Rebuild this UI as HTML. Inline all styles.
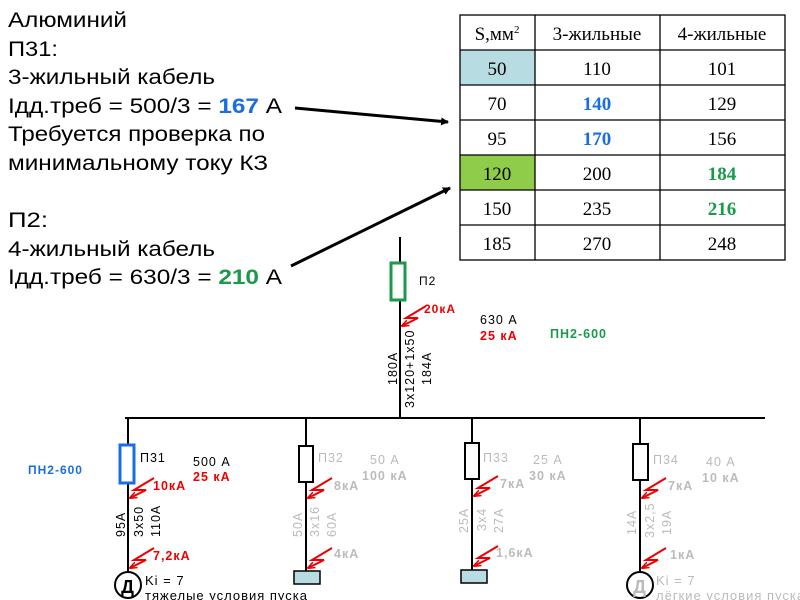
<!DOCTYPE html>
<html><head><meta charset="utf-8"><style>
html,body{margin:0;padding:0;background:#fff;}
svg{display:block;font-family:"Liberation Sans","DejaVu Sans",sans-serif;}
.d text{letter-spacing:1px;}
</style></head><body>
<svg width="800" height="600" viewBox="0 0 800 600" xmlns="http://www.w3.org/2000/svg">
<defs>
<marker id="ah" markerWidth="8" markerHeight="8" refX="7" refY="4" orient="auto" markerUnits="userSpaceOnUse"><path d="M0,0 L8,4 L0,8 z" fill="#000"/></marker>
<marker id="rh" markerWidth="8" markerHeight="8" refX="7" refY="4" orient="auto" markerUnits="userSpaceOnUse"><path d="M0,1 L8,4 L0,7" fill="none" stroke="#e00" stroke-width="1.5"/></marker>
<g id="z"><polyline points="24,-12 4,0 16,0 0,8" fill="none" stroke="#e00" stroke-width="2" marker-end="url(#rh)"/></g>
</defs>
<g font-size="21" fill="#000">
<text x="8" y="27" textLength="119" lengthAdjust="spacingAndGlyphs">Алюминий</text>
<text x="8" y="56" textLength="50" lengthAdjust="spacingAndGlyphs">П31:</text>
<text x="8" y="84" textLength="207" lengthAdjust="spacingAndGlyphs">3-жильный кабель</text>
<text x="8" y="113" textLength="274" lengthAdjust="spacingAndGlyphs">Ідд.треб = 500/3 = <tspan fill="#1a6ee0" font-weight="bold">167</tspan> А</text>
<text x="8" y="141" textLength="257" lengthAdjust="spacingAndGlyphs">Требуется проверка по</text>
<text x="8" y="170" textLength="260" lengthAdjust="spacingAndGlyphs">минимальному току КЗ</text>
<text x="8" y="227" textLength="40" lengthAdjust="spacingAndGlyphs">П2:</text>
<text x="8" y="256" textLength="207" lengthAdjust="spacingAndGlyphs">4-жильный кабель</text>
<text x="8" y="284" textLength="274" lengthAdjust="spacingAndGlyphs">Ідд.треб = 630/3 = <tspan fill="#1a9a4a" font-weight="bold">210</tspan> А</text>
</g>
<line x1="295" y1="108" x2="448" y2="122" stroke="#000" stroke-width="3" marker-end="url(#ah)"/>
<line x1="291" y1="266" x2="450" y2="188" stroke="#000" stroke-width="3" marker-end="url(#ah)"/>
<rect x="460" y="50" width="75" height="35" fill="#b7dde3"/>
<rect x="460" y="155" width="75" height="35" fill="#8fcc4a"/>
<g stroke="#000" stroke-width="1.3" fill="none">
<rect x="460" y="15" width="325" height="245"/>
<line x1="535" y1="15" x2="535" y2="260"/><line x1="660" y1="15" x2="660" y2="260"/>
<line x1="460" y1="50" x2="785" y2="50"/><line x1="460" y1="85" x2="785" y2="85"/>
<line x1="460" y1="120" x2="785" y2="120"/><line x1="460" y1="155" x2="785" y2="155"/>
<line x1="460" y1="190" x2="785" y2="190"/><line x1="460" y1="225" x2="785" y2="225"/>
</g>
<g font-family="Liberation Serif,serif" font-size="19" text-anchor="middle">
<text x="497" y="40">S,мм<tspan font-size="11" dy="-7">2</tspan></text>
<text x="597" y="40">3-жильные</text><text x="722" y="40">4-жильные</text>
<text x="497" y="75">50</text><text x="597" y="75">110</text><text x="722" y="75">101</text>
<text x="497" y="110">70</text><text x="597" y="110" fill="#1a6ee0" font-weight="bold">140</text><text x="722" y="110">129</text>
<text x="497" y="145">95</text><text x="597" y="145" fill="#1a6ee0" font-weight="bold">170</text><text x="722" y="145">156</text>
<text x="497" y="180">120</text><text x="597" y="180">200</text><text x="722" y="180" fill="#1a9a4a" font-weight="bold">184</text>
<text x="497" y="215">150</text><text x="597" y="215">235</text><text x="722" y="215" fill="#1a9a4a" font-weight="bold">216</text>
<text x="497" y="250">185</text><text x="597" y="250">270</text><text x="722" y="250">248</text>
</g>
<g class="d">
<line x1="400" y1="237" x2="400" y2="418" stroke="#000" stroke-width="2"/>
<rect x="391" y="263" width="14" height="37" fill="#fff" stroke="#1a9a4a" stroke-width="3"/>
<text x="419" y="285" font-size="12">П2</text>
<use href="#z" x="402" y="318"/>
<text x="424" y="313" font-size="12" font-weight="bold" fill="#e00">20кА</text>
<text x="480" y="324" font-size="12.5">630 А</text>
<text x="480" y="340" font-size="12.5" font-weight="bold" fill="#e00">25 кА</text>
<text x="550" y="338" font-size="12.5" font-weight="bold" fill="#1a9a4a">ПН2-600</text>
<g font-size="12.5">
<text transform="translate(397,385) rotate(-90)">180А</text>
<text transform="translate(414,408) rotate(-90)">3x120+1x50</text>
<text transform="translate(431,385) rotate(-90)">184А</text>
</g>
<line x1="125" y1="418" x2="765" y2="418" stroke="#000" stroke-width="2"/>
<line x1="128" y1="418" x2="128" y2="572" stroke="#000" stroke-width="2"/>
<rect x="120" y="445" width="14" height="38" fill="#fff" stroke="#1a6ee0" stroke-width="3"/>
<text x="140" y="462" font-size="12.5">П31</text>
<text x="193" y="466" font-size="12.5">500 А</text>
<text x="193" y="481" font-size="12.5" font-weight="bold" fill="#e00">25 кА</text>
<text x="28" y="474" font-size="12" font-weight="bold" fill="#1a6ee0">ПН2-600</text>
<use href="#z" x="130" y="490"/>
<text x="153" y="490" font-size="12.5" font-weight="bold" fill="#e00">10кА</text>
<g font-size="12.5"><text transform="translate(125,537) rotate(-90)">95А</text><text transform="translate(143,537) rotate(-90)">3x50</text><text transform="translate(160,537) rotate(-90)">110А</text></g>
<use href="#z" x="130" y="560"/>
<text x="153" y="560" font-size="12.5" font-weight="bold" fill="#e00">7,2кА</text>
<circle cx="128" cy="585" r="13" fill="#fff" stroke="#000" stroke-width="2"/>
<text x="128" y="593" font-size="18" font-weight="bold" text-anchor="middle">Д</text>
<text x="145" y="585" font-size="13">Ki = 7</text>
<text x="145" y="600" font-size="13">тяжелые условия пуска</text>
<line x1="306" y1="418" x2="306" y2="572" stroke="#000" stroke-width="2"/>
<rect x="299" y="446" width="14" height="36" fill="#fff" stroke="#000" stroke-width="2"/>
<g fill="#bbb" font-size="12.5">
<text x="318" y="462">П32</text><text x="370" y="464">50 А</text><text x="362" y="480" font-weight="bold">100 кА</text>
<text x="334" y="490" font-weight="bold">8кА</text><text x="334" y="558" font-weight="bold">4кА</text>
<text transform="translate(302,537) rotate(-90)">50А</text><text transform="translate(319,537) rotate(-90)">3x16</text><text transform="translate(336,537) rotate(-90)">60А</text>
</g>
<use href="#z" x="308" y="490"/><use href="#z" x="308" y="560"/>
<rect x="294" y="571" width="26" height="13" fill="#b7dde3" stroke="#000" stroke-width="1.5"/>
<line x1="472" y1="418" x2="472" y2="570" stroke="#000" stroke-width="2"/>
<rect x="465" y="443" width="14" height="36" fill="#fff" stroke="#000" stroke-width="2"/>
<g fill="#bbb" font-size="12.5">
<text x="483" y="462">П33</text><text x="533" y="464">25 А</text><text x="529" y="480" font-weight="bold">30 кА</text>
<text x="500" y="488" font-weight="bold">7кА</text><text x="496" y="557" font-weight="bold">1,6кА</text>
<text transform="translate(468,533) rotate(-90)">25А</text><text transform="translate(486,531) rotate(-90)">3x4</text><text transform="translate(503,533) rotate(-90)">27А</text>
</g>
<use href="#z" x="474" y="488"/><use href="#z" x="474" y="558"/>
<rect x="461" y="570" width="26" height="13" fill="#b7dde3" stroke="#000" stroke-width="1.5"/>
<line x1="640" y1="418" x2="640" y2="572" stroke="#000" stroke-width="2"/>
<rect x="633" y="444" width="15" height="36" fill="#fff" stroke="#000" stroke-width="2"/>
<g fill="#bbb" font-size="12.5">
<text x="653" y="464">П34</text><text x="706" y="466">40 А</text><text x="702" y="482" font-weight="bold">10 кА</text>
<text x="668" y="490" font-weight="bold">7кА</text><text x="670" y="559" font-weight="bold">1кА</text>
<text transform="translate(636,535) rotate(-90)">14А</text><text transform="translate(654,538) rotate(-90)">3x2,5</text><text transform="translate(671,535) rotate(-90)">19А</text>
<text x="656" y="585" font-size="13">Ki = 7</text><text x="656" y="600" font-size="13">лёгкие условия пуска</text>
</g>
<use href="#z" x="642" y="490"/><use href="#z" x="642" y="560"/>
<circle cx="640" cy="585" r="13" fill="#fff" stroke="#000" stroke-width="2"/>
<text x="640" y="593" font-size="18" font-weight="bold" fill="#bbb" text-anchor="middle">Д</text>
</g>
</svg>
</body></html>
